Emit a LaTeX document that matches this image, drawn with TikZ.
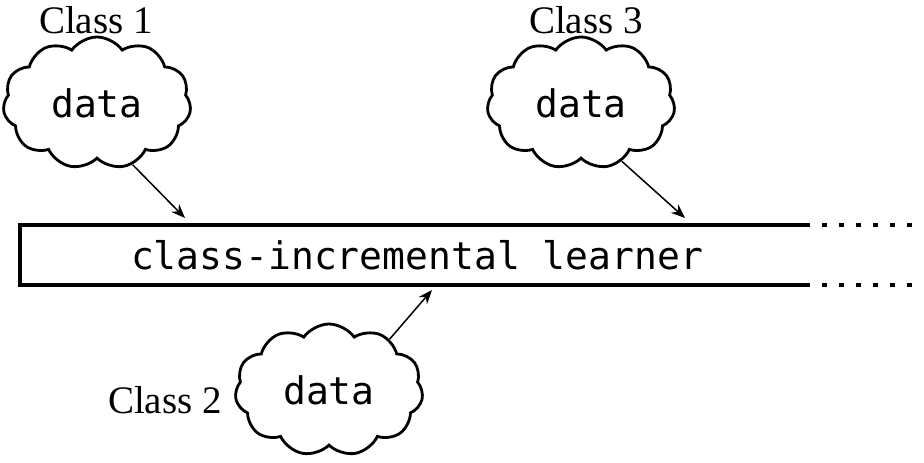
\documentclass[tikz,border=0pt]{standalone}
\usepackage{fontspec}
\setmainfont{Liberation Serif}
\setmonofont{DejaVu Sans Mono}
\usetikzlibrary{shapes.symbols,arrows.meta}
\begin{document}
\begin{tikzpicture}[x=1pt,y=-1pt,
  datacloud/.style={cloud,cloud puffs=11,cloud puff arc=110,draw,line width=2.8pt,minimum width=188pt,minimum height=132pt,aspect=1.45,font=\ttfamily\fontsize{38}{38}\selectfont,inner sep=0pt},
  lbl/.style={font=\fontsize{39}{39}\selectfont},
  arr/.style={-{Stealth[length=14pt,width=11pt]},line width=1.5pt},
  edge/.style={line width=4pt}]
\useasboundingbox (0,0) rectangle (924,463);
\node[datacloud] (c1) at (97,103) {data};
\node[datacloud] (c3) at (581,103) {data};
\node[datacloud] (c2) at (329,390) {data};
\node[lbl] (l1) at (96,20) {Class 1};
\node[lbl] (l3) at (586,20) {Class 3};
\node[lbl] (l2) at (165,400) {Class 2};
\node[inner sep=0pt,minimum width=790pt,minimum height=60pt,font=\ttfamily\fontsize{38}{38}\selectfont] (box) at (417,255) {class-incremental learner};
\draw[edge] (810,225) -- (20,225) -- (20,285) -- (810,285);
\draw[line width=4pt,dash pattern=on 5pt off 12pt] (822,225) -- (915,225);
\draw[line width=4pt,dash pattern=on 5pt off 12pt] (822,285) -- (915,285);
\coordinate (a1) at (185,218);
\coordinate (a3) at (685,218);
\coordinate (a2) at (432,290);
\draw[arr] (c1.-60) -- (a1);
\draw[arr] (c3.-55) -- (a3);
\draw[arr] (c2.40) -- (a2);
\end{tikzpicture}
\end{document}
